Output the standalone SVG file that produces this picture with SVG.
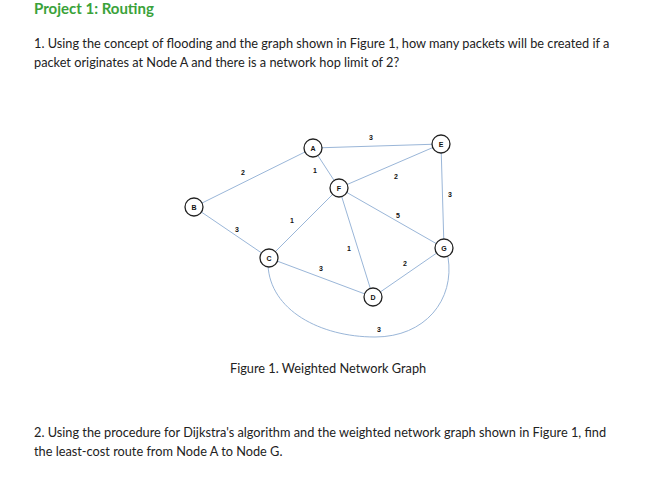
<svg xmlns="http://www.w3.org/2000/svg" width="662" height="491" viewBox="0 0 662 491">
<style>
.t{font-family:Lato,"Liberation Sans",sans-serif;font-size:12.75px;fill:#222}
.n circle{fill:#fff;stroke:#222;stroke-width:1.3}
.n text{font-family:"Liberation Sans",sans-serif;font-size:7px;font-weight:bold;text-anchor:middle;fill:#111}
.e line,.e path{stroke:#9ab6d8;stroke-width:1;fill:none}
.w{font-family:"Liberation Sans",sans-serif;font-size:7px;font-weight:bold;text-anchor:middle;fill:#111}
</style>
<rect width="662" height="491" fill="#fff"/>
<text x="34" y="14" font-family="Lato,'Liberation Sans',sans-serif" font-size="15" font-weight="bold" fill="#3aa23a">Project 1: Routing</text>
<text class="t" x="34" y="48">1. Using the concept of flooding and the graph shown in Figure 1, how many packets will be created if a</text>
<text class="t" x="34" y="67">packet originates at Node A and there is a network hop limit of 2?</text>
<g class="e" id="connectors">
<line x1="313" y1="148" x2="441" y2="144"/>
<line x1="313" y1="148" x2="339" y2="188"/>
<line x1="313" y1="148" x2="194" y2="207"/>
<line x1="441" y1="144" x2="339" y2="188"/>
<line x1="441" y1="144" x2="444" y2="248"/>
<line x1="194" y1="207" x2="269" y2="258"/>
<line x1="339" y1="188" x2="269" y2="258"/>
<line x1="339" y1="188" x2="444" y2="248"/>
<line x1="339" y1="188" x2="373" y2="297"/>
<line x1="269" y1="258" x2="373" y2="297"/>
<line x1="373" y1="297" x2="444" y2="248"/>
<path d="M268,265 C270,310 320,337 375,337 C425,337 455,300 448,257"/>
</g>
<g class="w">
<text x="371" y="140">3</text><text x="315" y="173">1</text><text x="396" y="179">2</text>
<text x="243" y="175">2</text><text x="450" y="197">3</text><text x="292" y="223">1</text>
<text x="398" y="218">5</text><text x="237" y="232">3</text><text x="349" y="251">1</text>
<text x="321" y="271">3</text><text x="405" y="266">2</text><text x="379" y="332">3</text>
</g>
<g class="n" id="nodeA"><circle cx="313" cy="148" r="9"/><text x="313" y="150.5">A</text></g>
<g class="n" id="nodeE"><circle cx="441" cy="144" r="9"/><text x="441" y="146.5">E</text></g>
<g class="n" id="nodeF"><circle cx="339" cy="188" r="9"/><text x="339" y="190.5">F</text></g>
<g class="n" id="nodeB"><circle cx="194" cy="207" r="9"/><text x="194" y="209.5">B</text></g>
<g class="n" id="nodeC"><circle cx="269" cy="258" r="9"/><text x="269" y="260.5">C</text></g>
<g class="n" id="nodeG"><circle cx="444" cy="248" r="9"/><text x="444" y="250.5">G</text></g>
<g class="n" id="nodeD"><circle cx="373" cy="297" r="9"/><text x="373" y="299.5">D</text></g>
<text class="t" x="230" y="373">Figure 1. Weighted Network Graph</text>
<text class="t" x="34" y="437">2. Using the procedure for Dijkstra's algorithm and the weighted network graph shown in Figure 1, find</text>
<text class="t" x="34" y="456">the least-cost route from Node A to Node G.</text>
</svg>
